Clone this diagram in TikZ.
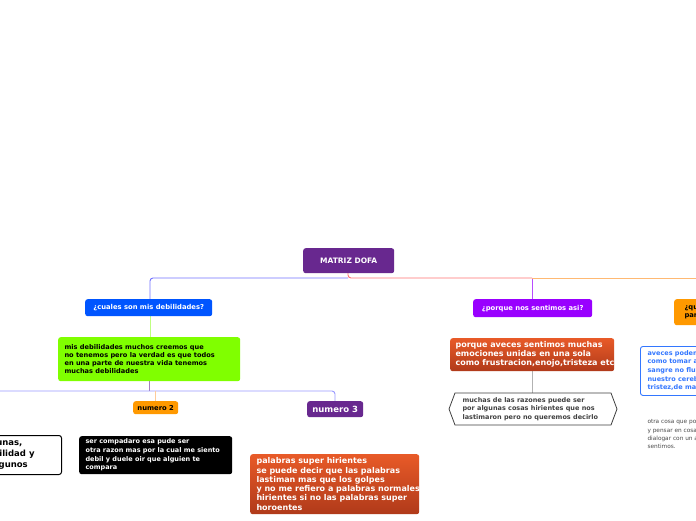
\documentclass[tikz,border=0pt]{standalone}
\usepackage{fontspec}
\setmainfont{DejaVu Sans}
\definecolor{dpurple}{HTML}{68288F}
\definecolor{dblue}{HTML}{0055FF}
\definecolor{dgreen}{HTML}{80FF00}
\definecolor{dorange}{HTML}{FF9900}
\definecolor{dviolet}{HTML}{9900FF}
\definecolor{rtop}{HTML}{E85A28}
\definecolor{rbot}{HTML}{B03A1A}
\begin{document}
\begin{tikzpicture}[x=1pt,y=-1pt,
  box/.style={rounded corners=2.5pt,inner sep=0pt,anchor=north west},
  txt/.style={font=\fontsize{6.8}{7.8}\selectfont\bfseries,align=left},
  ln/.style={line width=0.9pt,rounded corners=3pt}]
\clip (0,0) rectangle (696,520);
\fill[white] (0,0) rectangle (696,520);
% connectors
\draw[ln,draw=blue!55] (348,278) -| (150,299);
\draw[ln,draw=red!55] (348,273) -- (348,278) -- (532,278);
\draw[ln,draw=dviolet!70] (532,278) -- (532,299);
\draw[ln,draw=orange!55] (532,278) -- (700,278);
\draw[ln,draw=dgreen!50] (150,316) -- (150,337);
\draw[ln,draw=dpurple!60] (149,381) -- (149,391);
\draw[ln,draw=blue!40] (0,391) -- (335,391) -- (335,401);
\draw[ln,draw=orange!40] (155,391) -- (155,401);
\draw[line width=0.9pt,gray!60] (532,371) -- (532,393);
% nodes
\node[box,fill=dpurple,minimum width=91pt,minimum height=25pt] (root) at (303,248) {};
\node[text=white,font=\fontsize{7.5}{8}\selectfont\bfseries] at (root.center) {MATRIZ DOFA};
\node[box,fill=dblue,minimum width=127pt,minimum height=17pt] (q1) at (85,299) {};
\node[txt,text=white] at (q1.center) {¿cuales son mis debilidades?};
\node[box,fill=dgreen,minimum width=182pt,minimum height=44pt] (g) at (58,337) {};
\node[txt,anchor=west,font=\fontsize{6.6}{7.8}\selectfont\bfseries] at (61,359) {mis debilidades muchos creemos que\\no tenemos pero la verdad es que todos\\en una parte de nuestra vida tenemos\\muchas debilidades};
\node[box,fill=dorange,minimum width=45pt,minimum height=13pt] (n2) at (133,401) {};
\node[txt] at (n2.center) {numero 2};
\node[box,fill=dpurple,minimum width=56pt,minimum height=16pt] (n3) at (307,401) {};
\node[text=white,font=\fontsize{8.5}{9}\selectfont\bfseries] at (n3.center) {numero 3};
\node[box,draw=black,line width=1pt,fill=white,minimum width=80pt,minimum height=39pt] (wb) at (-19,435) {};
\node[anchor=west,align=left,font=\fontsize{8.5}{11}\selectfont\bfseries] at (-22,454.5) {algunas,\\habilidad y\\ y algunos};
\node[box,fill=black,minimum width=153pt,minimum height=38pt] (bb) at (79,436) {};
\node[txt,text=white,anchor=west,font=\fontsize{6.5}{8.7}\selectfont\bfseries] at (82,455) {ser compadaro esa pude ser\\otra razon mas por la cual me siento\\debil y duele oir que alguien te\\compara};
\node[box,top color=rtop,bottom color=rbot,minimum width=169pt,minimum height=60pt] (ob) at (250,454) {};
\node[txt,text=white,anchor=west,font=\fontsize{8}{9.3}\selectfont\bfseries] at (253,484) {palabras super hirientes\\se puede decir que las palabras\\lastiman mas que los golpes\\y no me refiero a palabras normales\\hirientes si no las palabras super\\horoentes};
\node[box,fill=dviolet,minimum width=119pt,minimum height=18pt] (q2) at (473,299) {};
\node[txt,text=white] at (q2.center) {¿porque nos sentimos asi?};
\node[box,top color=rtop,bottom color=rbot,minimum width=164pt,minimum height=33pt] (rb) at (450,338) {};
\node[txt,text=white,anchor=west,font=\fontsize{8}{9.2}\selectfont\bfseries] at (452,354.5) {porque aveces sentimos muchas\\emociones unidas en una sola\\como frustracion,enojo,tristeza etc};
\draw[draw=black!75,line width=0.8pt,fill=white] (449,409) -- (455,393) -- (611,393) -- (617,409) -- (611,425) -- (455,425) -- cycle;
\node[txt,text=black!75,anchor=west,font=\fontsize{6.5}{8.4}\selectfont\bfseries] (hx) at (459,409) {muchas de las razones puede ser\\por algunas cosas hirientes que nos\\lastimaron pero no queremos decirlo};
\node[box,fill=dorange,minimum width=40pt,minimum height=26pt] (q3) at (674,299) {};
\node[txt,anchor=west] at (681,312) {¿que podemos hacer\\para sentirnos mejor?};
\node[box,draw=dblue!80,line width=0.9pt,fill=white,minimum width=80pt,minimum height=49pt] (bl) at (640,346) {};
\node[txt,text=dblue!80,anchor=west,font=\fontsize{6.5}{8.7}\selectfont\bfseries] at (644,370.5) {aveces podemos\\como tomar agua\\sangre no fluye\\nuestro cerebro\\tristez,de manera};
\node[anchor=west,align=left,text=black!70,font=\fontsize{5.8}{8.3}\selectfont] (tx) at (644,434) {otra cosa que podemos\\y pensar en cosas\\dialogar con un amigo\\sentimos.};
\end{tikzpicture}
\end{document}
